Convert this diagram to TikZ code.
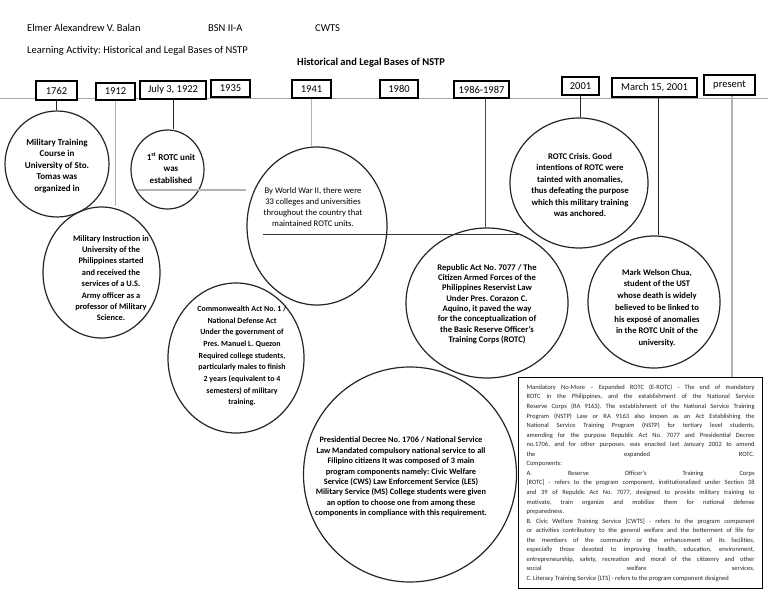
\documentclass[tikz,border=0pt]{standalone}
\usepackage{fontspec}
\setmainfont{Carlito}
\usepackage{xcolor}
\usepackage{tikz}
\usetikzlibrary{shapes.geometric, calc}
\frenchspacing

\begin{document}
\begin{tikzpicture}[
  x=1pt, y=-1pt,
  hdr/.style={anchor=west, inner sep=0pt, font=\fontsize{10.5}{12}\selectfont},
  yr/.style={rectangle, draw=black, line width=1.2pt, inner sep=0pt,
             font=\fontsize{10.5}{12}\selectfont, fill=white},
  evt/.style={ellipse, draw=black!85, line width=1.2pt, inner sep=0pt},
  evtxt/.style={align=center, inner sep=0pt,
                font=\bfseries\fontsize{9}{11.5}\selectfont},
  tick/.style={line width=1pt, black!85},
  gtick/.style={line width=1.2pt, gray!60}
]
\fill[white] (0,0) rectangle (768,594);
\useasboundingbox (0,0) rectangle (768,594);

%% header
\node[hdr] (name)  at (27,28) {Elmer Alexandrew V. Balan};
\node[hdr] (sect)  at (208,28) {BSN II-A};
\node[hdr] (subj)  at (315,28) {CWTS};
\node[hdr] (task)  at (27,51) {Learning Activity: Historical and Legal Bases of NSTP};
\node[hdr, font=\bfseries\fontsize{10.5}{12}\selectfont] (title) at (297,63)
    {Historical and Legal Bases of NSTP};

%% timeline
\coordinate (tl_l) at (0,98);
\coordinate (tl_r) at (768,98);
\draw[line width=1pt, gray!70] (tl_l) -- (tl_r);

%% year boxes
\node[yr, minimum width=41pt, minimum height=19pt] (y1762) at (56.5,90.5) {1762};
\node[yr, minimum width=39pt, minimum height=17pt] (y1912) at (115.5,91.5) {1912};
\node[yr, minimum width=66pt, minimum height=18pt] (y1922) at (173,90) {July 3, 1922};
\node[yr, minimum width=39pt, minimum height=17pt] (y1935) at (230.5,88.5) {1935};
\node[yr, minimum width=39pt, minimum height=18pt] (y1941) at (311.5,89) {1941};
\node[yr, minimum width=38pt, minimum height=18pt] (y1980) at (399,89) {1980};
\node[yr, minimum width=55pt, minimum height=17pt] (y1986) at (481.5,89.5) {1986-1987};
\node[yr, minimum width=37pt, minimum height=18pt] (y2001) at (580.5,86) {2001};
\node[yr, minimum width=85pt, minimum height=19pt] (ymar)  at (654.5,87.5) {March 15, 2001};
\node[yr, minimum width=51pt, minimum height=20pt] (ypres) at (729.5,85) {present};

%% event circles
\node[evt, minimum width=104pt, minimum height=106pt] (ust)    at (57,164) {};
\node[evt, minimum width=117pt, minimum height=131pt] (upmi)   at (101.5,272.5) {};
\node[evt, minimum width=73pt,  minimum height=79pt]  (rotc1)  at (167.5,169.5) {};
\node[evt, minimum width=140pt, minimum height=158pt] (ww2)    at (317,226) {};
\node[evt, minimum width=136pt, minimum height=150pt] (ca1)    at (236,358) {};
\node[evt, minimum width=213pt, minimum height=215pt] (pd1706) at (410,474.5) {};
\node[evt, minimum width=162pt, minimum height=150pt] (ra7077) at (487,303) {};
\node[evt, minimum width=138pt, minimum height=130pt] (crisis) at (579,183) {};
\node[evt, minimum width=132pt, minimum height=132pt] (chua)   at (654,302) {};

%% circle texts
\node[evtxt] (ust_t) at (57,166) {Military Training\\Course in\\University of Sto.\\Tomas was\\organized in};
\node[evtxt, font=\bfseries\fontsize{8.4}{11.4}\selectfont] (upmi_t) at (111,278)
    {Military Instruction in\\University of the\\Philippines started\\and received the\\services of a U.S.\\Army officer as a\\professor of Military\\Science.};
\node[evtxt] (rotc1_t) at (171,168) {1\textsuperscript{st} ROTC unit\\was\\established};
\node[evtxt, font=\fontsize{8.6}{11}\selectfont] (ww2_t) at (313,207)
    {By World War II, there were\\33 colleges and universities\\throughout the country that\\maintained ROTC units.};
\node[evtxt, font=\bfseries\fontsize{7.9}{11.7}\selectfont] (ca1_t) at (242,356)
    {Commonwealth Act No. 1 /\\National Defense Act\\Under the government of\\Pres. Manuel L. Quezon\\Required college students,\\particularly males to finish\\2 years (equivalent to 4\\semesters) of military\\training.};
\node[evtxt, font=\bfseries\fontsize{8.3}{10.4}\selectfont] (pd1706_t) at (401,477)
    {Presidential Decree No. 1706 / National Service\\Law Mandated compulsory national service to all\\Filipino citizens It was composed of 3 main\\program components namely: Civic Welfare\\Service (CWS) Law Enforcement Service (LES)\\Military Service (MS) College students were given\\an option to choose one from among these\\components in compliance with this requirement.};
\node[evtxt, font=\bfseries\fontsize{8.6}{10.3}\selectfont] (ra7077_t) at (487,304)
    {Republic Act No. 7077 / The\\Citizen Armed Forces of the\\Philippines Reservist Law\\Under Pres. Corazon C.\\Aquino, it paved the way\\for the conceptualization of\\the Basic Reserve Officer's\\Training Corps (ROTC)};
\node[evtxt, font=\bfseries\fontsize{8.7}{11.4}\selectfont] (crisis_t) at (580,185)
    {ROTC Crisis. Good\\intentions of ROTC were\\tainted with anomalies,\\thus defeating the purpose\\which this military training\\was anchored.};
\node[evtxt, font=\bfseries\fontsize{8.6}{11.7}\selectfont] (chua_t) at (657,308)
    {Mark Welson Chua,\\student of the UST\\whose death is widely\\believed to be linked to\\his exposé of anomalies\\in the ROTC Unit of the\\university.};

%% present: text box
\node[draw=black, line width=1.2pt, anchor=north west, text width=228pt,
      inner xsep=8pt, inner ysep=0pt, minimum height=211pt, align=justify,
      font=\fontsize{6.5}{9.55}\selectfont, text=black!85] (etext) at (518,377)
{Mandatory No-More -- Expanded ROTC (E-ROTC) - The end of mandatory\linebreak{}
ROTC in the Philippines, and the establishment of the National Service\linebreak{}
Reserve Corps (RA 9163). The establishment of the National Service Training\linebreak{}
Program (NSTP) Law or RA 9163 also known as an Act Establishing the\linebreak{}
National Service Training Program (NSTP) for tertiary level students,\linebreak{}
amending for the purpose Republic Act No. 7077 and Presidential Decree\linebreak{}
no.1706, and for other purposes. was enacted last January 2002 to amend\linebreak{}
the expanded ROTC.\linebreak{}
Components:\newline{}
A. Reserve Officer's Training Corps\linebreak{}
{[}ROTC{]} - refers to the program component, institutionalized under Section 38\linebreak{}
and 39 of Republic Act No. 7077, designed to provide military training to\linebreak{}
motivate, train organize and mobilize them for national defense\linebreak{}
preparedness.\newline{}
B. Civic Welfare Training Service {[}CWTS{]} - refers to the program component\linebreak{}
or activities contributory to the general welfare and the betterment of life for\linebreak{}
the members of the community or the enhancement of its facilities,\linebreak{}
especially those devoted to improving health, education, environment,\linebreak{}
entrepreneurship, safety, recreation and moral of the citizenry and other\linebreak{}
social welfare services.\linebreak{}
C. Literacy Training Service {[}LTS{]} - refers to the program component designed};

%% connectors from years
\draw[tick]  (y1762.south) -- (y1762.south |- ust.north);
\draw[gtick] (y1912.south) -- (y1912.south |- upmi.north);
\draw[tick]  (y1922.south) -- (y1922.south |- rotc1.north);
\draw[gtick] (y1941.south) -- (y1941.south |- ww2.north);
\draw[tick, black!70] ([xshift=3.5pt]y1986.south) -- ([xshift=3.5pt]y1986.south |- ra7077.north);
\draw[tick]  (y2001.south) -- (y2001.south |- crisis.north);
\draw[tick]  ([xshift=3.5pt]ymar.south) -- ([xshift=3.5pt]ymar.south |- chua.north);
\draw[gtick] ([xshift=2.5pt]ypres.south) -- ([xshift=2.5pt]ypres.south |- etext.north);

%% cross lines
\coordinate (cr1) at (137,190);
\draw[gtick] (cr1) -- (cr1 -| ww2.west);
\coordinate (cr2_a) at (263,234);
\coordinate (cr2_b) at (522,234);
\draw[tick, black!80] (cr2_a) -- (cr2_b);
\end{tikzpicture}
\end{document}
